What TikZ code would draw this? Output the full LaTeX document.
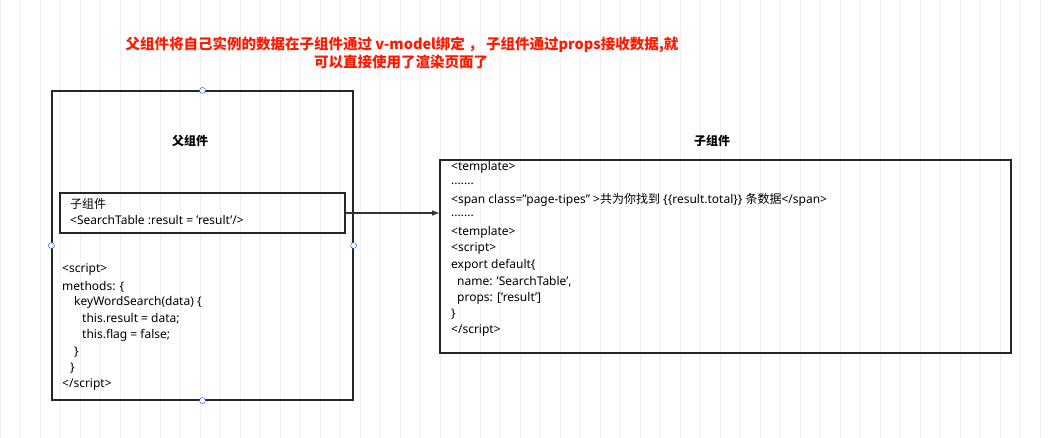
\documentclass[tikz,border=0pt]{standalone}
\usepackage{fontspec}
\setmainfont{Noto Sans}
\newfontfamily\cjk{Noto Sans CJK SC}
\begin{document}
\begin{tikzpicture}[x=1pt,y=-1pt,
  txt/.style={anchor=west,inner sep=0pt,font=\fontsize{12}{14}\selectfont},
  ttl/.style={inner sep=0pt,font=\fontsize{14.5}{16}\selectfont\bfseries\cjk,text=red!80!orange},
  hdr/.style={inner sep=0pt,font=\fontsize{12}{14}\selectfont\bfseries\cjk},
  box/.style={draw=black!85,line width=1.2pt},
  handle/.style={circle,draw=blue!70!cyan,fill=white,inner sep=0pt,minimum size=6pt}]
\useasboundingbox (0,0) rectangle (1051,438);
\fill[white] (0,0) rectangle (1051,438);
\draw[black!6,step=20] (0,0) grid (1051,438);
\node[ttl] (t1) at (402,45) {父组件将自己实例的数据在子组件通过 v-model绑定 ， 子组件通过props接收数据,就};
\node[ttl] (t2) at (401,62) {可以直接使用了渲染页面了};
% parent
\node[box,minimum width=301pt,minimum height=309pt,inner sep=0pt] (p) at (202.5,245.5) {};
\node[hdr] (ph) at (190,141) {父组件};
\node[box,minimum width=285pt,minimum height=40pt,inner sep=0pt] (pi) at (202.5,213) {};
\node[txt] (pi1) at (70,204) {{\cjk 子组件}};
\node[txt] (pi2) at (70,220) {<SearchTable :result = 'result'/>};
\node[txt] (s1) at (62,270) {<script>};
\node[txt] (s2) at (62,286.4) {methods: \{};
\node[txt] (s3) at (74,302.8) {keyWordSearch(data) \{};
\node[txt] (s4) at (82,319.2) {this.result = data;};
\node[txt] (s5) at (82,335.6) {this.flag = false;};
\node[txt] (s6) at (74,352) {\}};
\node[txt] (s7) at (70,368.4) {\}};
\node[txt] (s8) at (62,384.8) {</script>};
\node[handle] at (p.north) {};
\node[handle] at (p.south) {};
\node[handle] at (p.west) {};
\node[handle] at (p.east) {};
% child
\node[box,minimum width=571pt,minimum height=193pt,inner sep=0pt] (c) at (725.5,256.5) {};
\node[hdr] (ch) at (712,141) {子组件};
\node[txt] (c1) at (451,167) {<template>};
\node[txt] (c2) at (451,183.4) {.......};
\node[txt] (c3) at (451,199.8) {<span class="page-tipes" >{\cjk 共为你找到} \{\{\textbf{result.total}\}\} {\cjk 条数据}</span>};
\node[txt] (c4) at (451,216.2) {.......};
\node[txt] (c5) at (451,232.6) {<template>};
\node[txt] (c6) at (451,249) {<script>};
\node[txt] (c7) at (451,265.4) {export default\{};
\node[txt] (c8) at (457,281.8) {name: 'SearchTable',};
\node[txt] (c9) at (457,298.2) {props: ['result']};
\node[txt] (c10) at (451,314.6) {\}};
\node[txt] (c11) at (451,331) {</script>};
\draw[black!80,line width=1.5pt,-latex] (pi.east) -- (c.west |- pi.east);
\end{tikzpicture}
\end{document}
